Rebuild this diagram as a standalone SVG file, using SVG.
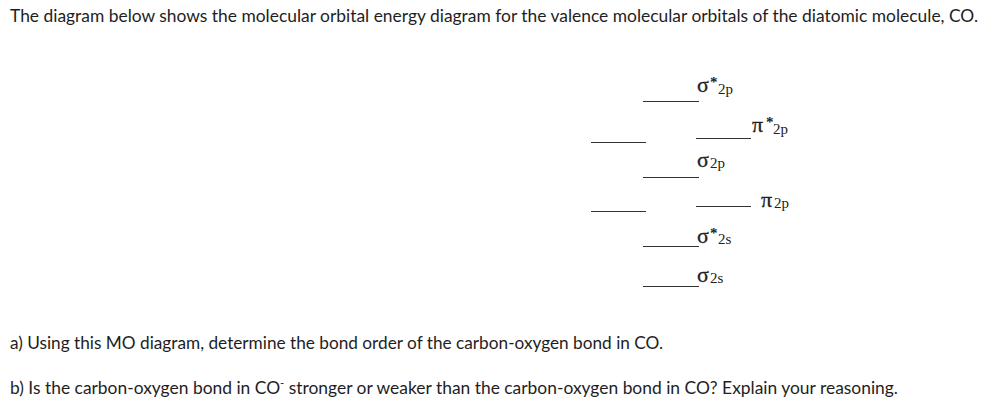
<svg xmlns="http://www.w3.org/2000/svg" width="989" height="417" viewBox="0 0 989 417">
<style>
.q{font-family:Lato,"Liberation Sans",sans-serif;font-size:17px;fill:#1e1e24}
.lv{stroke:#333;stroke-width:1.2}
.o{font-family:"Liberation Serif","Times New Roman",serif;font-size:22px;fill:#222;stroke:#222;stroke-width:0.3}
.s{font-family:"Liberation Serif","Times New Roman",serif;font-size:15px;fill:#222}
.st{font-family:"Liberation Serif","Times New Roman",serif;font-size:15px;fill:#222;font-weight:bold}
</style>
<rect width="989" height="417" fill="#fff"/>
<text class="q" x="10" y="22" textLength="968" lengthAdjust="spacingAndGlyphs">The diagram below shows the molecular orbital energy diagram for the valence molecular orbitals of the diatomic molecule, CO.</text>
<g id="connectors"></g>
<g id="left-upper"><line class="lv" x1="591" y1="142.5" x2="646" y2="142.5"/></g>
<g id="left-lower"><line class="lv" x1="591" y1="211.5" x2="646" y2="211.5"/></g>
<g id="sigma-star-2p"><line class="lv" x1="643" y1="101.5" x2="699" y2="101.5"/><text class="o" x="697" y="92">σ</text><text class="st" x="710" y="87">*</text><text class="s" x="718" y="94">2p</text></g>
<g id="pi-star-2p"><line class="lv" x1="696" y1="138.5" x2="751" y2="138.5"/><text class="o" x="752" y="132">π</text><text class="st" x="766" y="127">*</text><text class="s" x="773" y="134">2p</text></g>
<g id="sigma-2p"><line class="lv" x1="643" y1="177.5" x2="699" y2="177.5"/><text class="o" x="697" y="167">σ</text><text class="s" x="710" y="168">2p</text></g>
<g id="pi-2p"><line class="lv" x1="696" y1="206.5" x2="751" y2="206.5"/><text class="o" x="761" y="207">π</text><text class="s" x="774" y="208">2p</text></g>
<g id="sigma-star-2s"><line class="lv" x1="643" y1="246.5" x2="699" y2="246.5"/><text class="o" x="697" y="243">σ</text><text class="st" x="710" y="238">*</text><text class="s" x="718" y="244">2s</text></g>
<g id="sigma-2s"><line class="lv" x1="643" y1="286.5" x2="699" y2="286.5"/><text class="o" x="697" y="282">σ</text><text class="s" x="710" y="283">2s</text></g>
<text class="q" x="10" y="349" textLength="653" lengthAdjust="spacingAndGlyphs">a) Using this MO diagram, determine the bond order of the carbon-oxygen bond in CO.</text>
<text class="q" x="10" y="394" textLength="888" lengthAdjust="spacingAndGlyphs">b) Is the carbon-oxygen bond in CO<tspan font-size="11" dy="-7">-</tspan><tspan dy="7"> stronger or weaker than the carbon-oxygen bond in CO? Explain your reasoning.</tspan></text>
</svg>
